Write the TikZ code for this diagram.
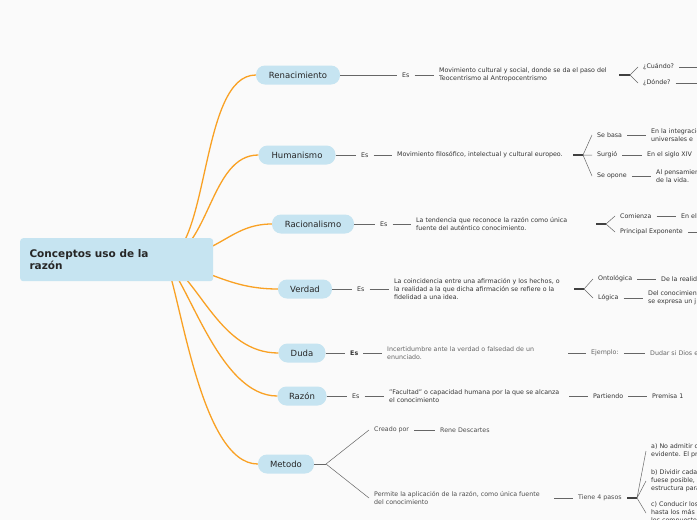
\documentclass[tikz,border=0pt]{standalone}
\usepackage{fontspec}
\setmainfont{DejaVu Sans}
\begin{document}
\begin{tikzpicture}[x=1pt,y=-1pt,
  txt/.style={anchor=west,inner xsep=5pt,inner ysep=0pt,xshift=-5pt,font=\fontsize{6.3}{8}\selectfont,text=black!80,align=left},
  topic/.style={rounded corners=9pt,fill=topicblue,minimum height=19pt,inner sep=0pt,font=\fontsize{8.5}{10}\selectfont,text=black!85},
  br/.style={draw=orangeline,line width=1.3pt},
  ln/.style={draw=black!60,line width=0.5pt},
  thk/.style={draw=black!75,line width=1.5pt}]
\definecolor{topicblue}{HTML}{C6E4F1}
\definecolor{orangeline}{HTML}{F9A124}
\useasboundingbox (0,0) rectangle (697,520);
\fill[black!2] (0,0) rectangle (697,520);
\begin{scope}
\clip (0,0) rectangle (697,520);
% topics
\node[topic,minimum width=84pt] (ren) at (298,75) {Renacimiento};
\node[topic,minimum width=77pt] (hum) at (297,155) {Humanismo};
\node[topic,minimum width=82pt] (rac) at (313,224) {Racionalismo};
\node[topic,minimum width=54pt] (ver) at (305,289) {Verdad};
\node[topic,minimum width=47pt] (dud) at (302,353) {Duda};
\node[topic,minimum width=49pt] (raz) at (302,396) {Razón};
\node[topic,minimum width=56pt] (met) at (286,464) {Metodo};
\coordinate (o) at (165,260);
\draw[br] (o) .. controls (210,250) and (200,75) .. (ren.west);
\draw[br] (o) .. controls (210,250) and (210,155) .. (hum.west);
\draw[br] (o) .. controls (220,255) and (230,224) .. (rac.west);
\draw[br] (o) .. controls (210,270) and (230,289) .. (ver.west);
\draw[br] (o) .. controls (200,280) and (220,353) .. (dud.west);
\draw[br] (o) .. controls (190,285) and (220,396) .. (raz.west);
\draw[br] (o) .. controls (180,290) and (200,464) .. (met.west);
\node[rounded corners=3pt,fill=topicblue,minimum width=193pt,minimum height=43pt,anchor=north west,inner sep=0pt] (main) at (20,238) {};
\node[anchor=west,font=\bfseries\fontsize{10.5}{12}\selectfont,align=left,text=black!85] (mt) at (26,260) {Conceptos uso de la\\razón};
% Renacimiento
\node[txt] (r1) at (402,75) {Es};
\node[txt] (r2) at (439,75) {Movimiento cultural y social, donde se da el paso del\\Teocentrismo al Antropocentrismo};
\draw[ln] (ren.east) -- (r1.west) (r1.east) -- (r2.west);
\coordinate (rf) at (630,75);
\draw[thk] (619,75) -- (rf);
\node[txt] (rc) at (643,67) {¿Cuándo?};
\node[txt] (rd) at (643,83) {¿Dónde?};
\draw[ln] (rf) -- (rc.west) (rf) -- (rd.west);
\coordinate (rce) at (697,67); \coordinate (rde) at (697,83);
\draw[ln] (rc.east) -- (rce) (rd.east) -- (rde);
% Humanismo
\node[txt] (h1) at (361,155) {Es};
\node[txt] (h2) at (397,155) {Movimiento filosófico, intelectual y cultural europeo.};
\draw[ln] (hum.east) -- (h1.west) (h1.east) -- (h2.west);
\coordinate (hf) at (583,155);
\draw[thk] (573,155) -- (hf);
\node[txt] (hb) at (597,135) {Se basa};
\node[txt] (hs) at (597,155) {Surgió};
\node[txt] (ho) at (597,176) {Se opone};
\draw[ln] (hf) -- (hb.west) (hf) -- (hs.west) (hf) -- (ho.west);
\node[txt] (hb2) at (651,135) {En la integración de los\\universales e};
\node[txt] (hs2) at (647,155) {En el siglo XIV};
\node[txt] (ho2) at (656,176) {Al pensamiento\\de la vida.};
\draw[ln] (hb.east) -- (hb2.west) (hs.east) -- (hs2.west) (ho.east) -- (ho2.west);
% Racionalismo
\node[txt] (c1) at (380,224) {Es};
\node[txt] (c2) at (416,224) {La tendencia que reconoce la razón como única\\fuente del auténtico conocimiento.};
\draw[ln] (rac.east) -- (c1.west) (c1.east) -- (c2.west);
\coordinate (cf) at (606,224);
\draw[thk] (596,224) -- (cf);
\node[txt] (cc) at (620,216) {Comienza};
\node[txt] (cp) at (620,232) {Principal Exponente};
\draw[ln] (cf) -- (cc.west) (cf) -- (cp.west);
\node[txt] (cc2) at (681,216) {En el};
\coordinate (cpe) at (697,232);
\draw[ln] (cc.east) -- (cc2.west) (cp.east) -- (cpe);
% Verdad
\node[txt] (v1) at (357,289) {Es};
\node[txt] (v2) at (394,289) {La coincidencia entre una afirmación y los hechos, o\\la realidad a la que dicha afirmación se refiere o la\\fidelidad a una idea.};
\draw[ln] (ver.east) -- (v1.west) (v1.east) -- (v2.west);
\coordinate (vf) at (584,289);
\draw[thk] (574,289) -- (vf);
\node[txt] (vo) at (598,279) {Ontológica};
\node[txt] (vl) at (598,298) {Lógica};
\draw[ln] (vf) -- (vo.west) (vf) -- (vl.west);
\node[txt] (vo2) at (661,279) {De la realidad};
\node[txt] (vl2) at (648,298) {Del conocimiento\\se expresa un j};
\draw[ln] (vo.east) -- (vo2.west) (vl.east) -- (vl2.west);
% Duda
\node[txt,font=\bfseries\fontsize{6.3}{8}\selectfont] (d1) at (350,353) {Es};
\node[txt,text=black!60] (d2) at (387,353) {Incertidumbre ante la verdad o falsedad de un\\enunciado.};
\draw[ln] (dud.east) -- (d1.west) (d1.east) -- (d2.west);
\node[txt,text=black!60] (d3) at (591,353) {Ejemplo:};
\node[txt,text=black!60] (d4) at (650,353) {Dudar si Dios existe};
\draw[ln] (568,353) -- (d3.west);
\draw[ln] (d3.east) -- (d4.west);
% Razón
\node[txt] (z1) at (352,396) {Es};
\node[txt] (z2) at (389,396) {"Facultad" o capacidad humana por la que se alcanza\\el conocimiento};
\draw[ln] (raz.east) -- (z1.west) (z1.east) -- (z2.west);
\node[txt] (z3) at (593,396) {Partiendo};
\node[txt] (z4) at (652,396) {Premisa 1};
\draw[ln] (569,396) -- (z3.west) (z3.east) -- (z4.west);
% Metodo
\coordinate (mf) at (326,464);
\draw[ln] (met.east) -- (mf);
\node[txt,text=black!70] (m1) at (374,430) {Creado por};
\node[txt,text=black!70] (m2) at (440,430) {Rene Descartes};
\node[txt,text=black!70] (m3) at (374,498) {Permite la aplicación de la razón, como única fuente\\del conocimiento};
\draw[ln] (mf) -- (m1.west) (mf) -- (m3.west);
\draw[ln] (m1.east) -- (m2.west);
\node[txt,text=black!70] (m4) at (578,498) {Tiene 4 pasos};
\draw[ln] (554,498) -- (m4.west);
\coordinate (mpf) at (637,498);
\draw[thk] (627,498) -- (mpf);
\node[txt] (pa) at (651,451) {a) No admitir como verdadero lo que no sea\\evidente. El principio};
\node[txt] (pb) at (651,481) {b) Dividir cada dificultad en cuantas partes\\fuese posible, para la\\estructura para};
\node[txt] (pc) at (651,513) {c) Conducir los pensamientos por orden\\hasta los más\\los compuestos};
\draw[ln] (mpf) -- (pa.west) (mpf) -- (pb.west) (mpf) -- (pc.west);
\end{scope}
\end{tikzpicture}
\end{document}
